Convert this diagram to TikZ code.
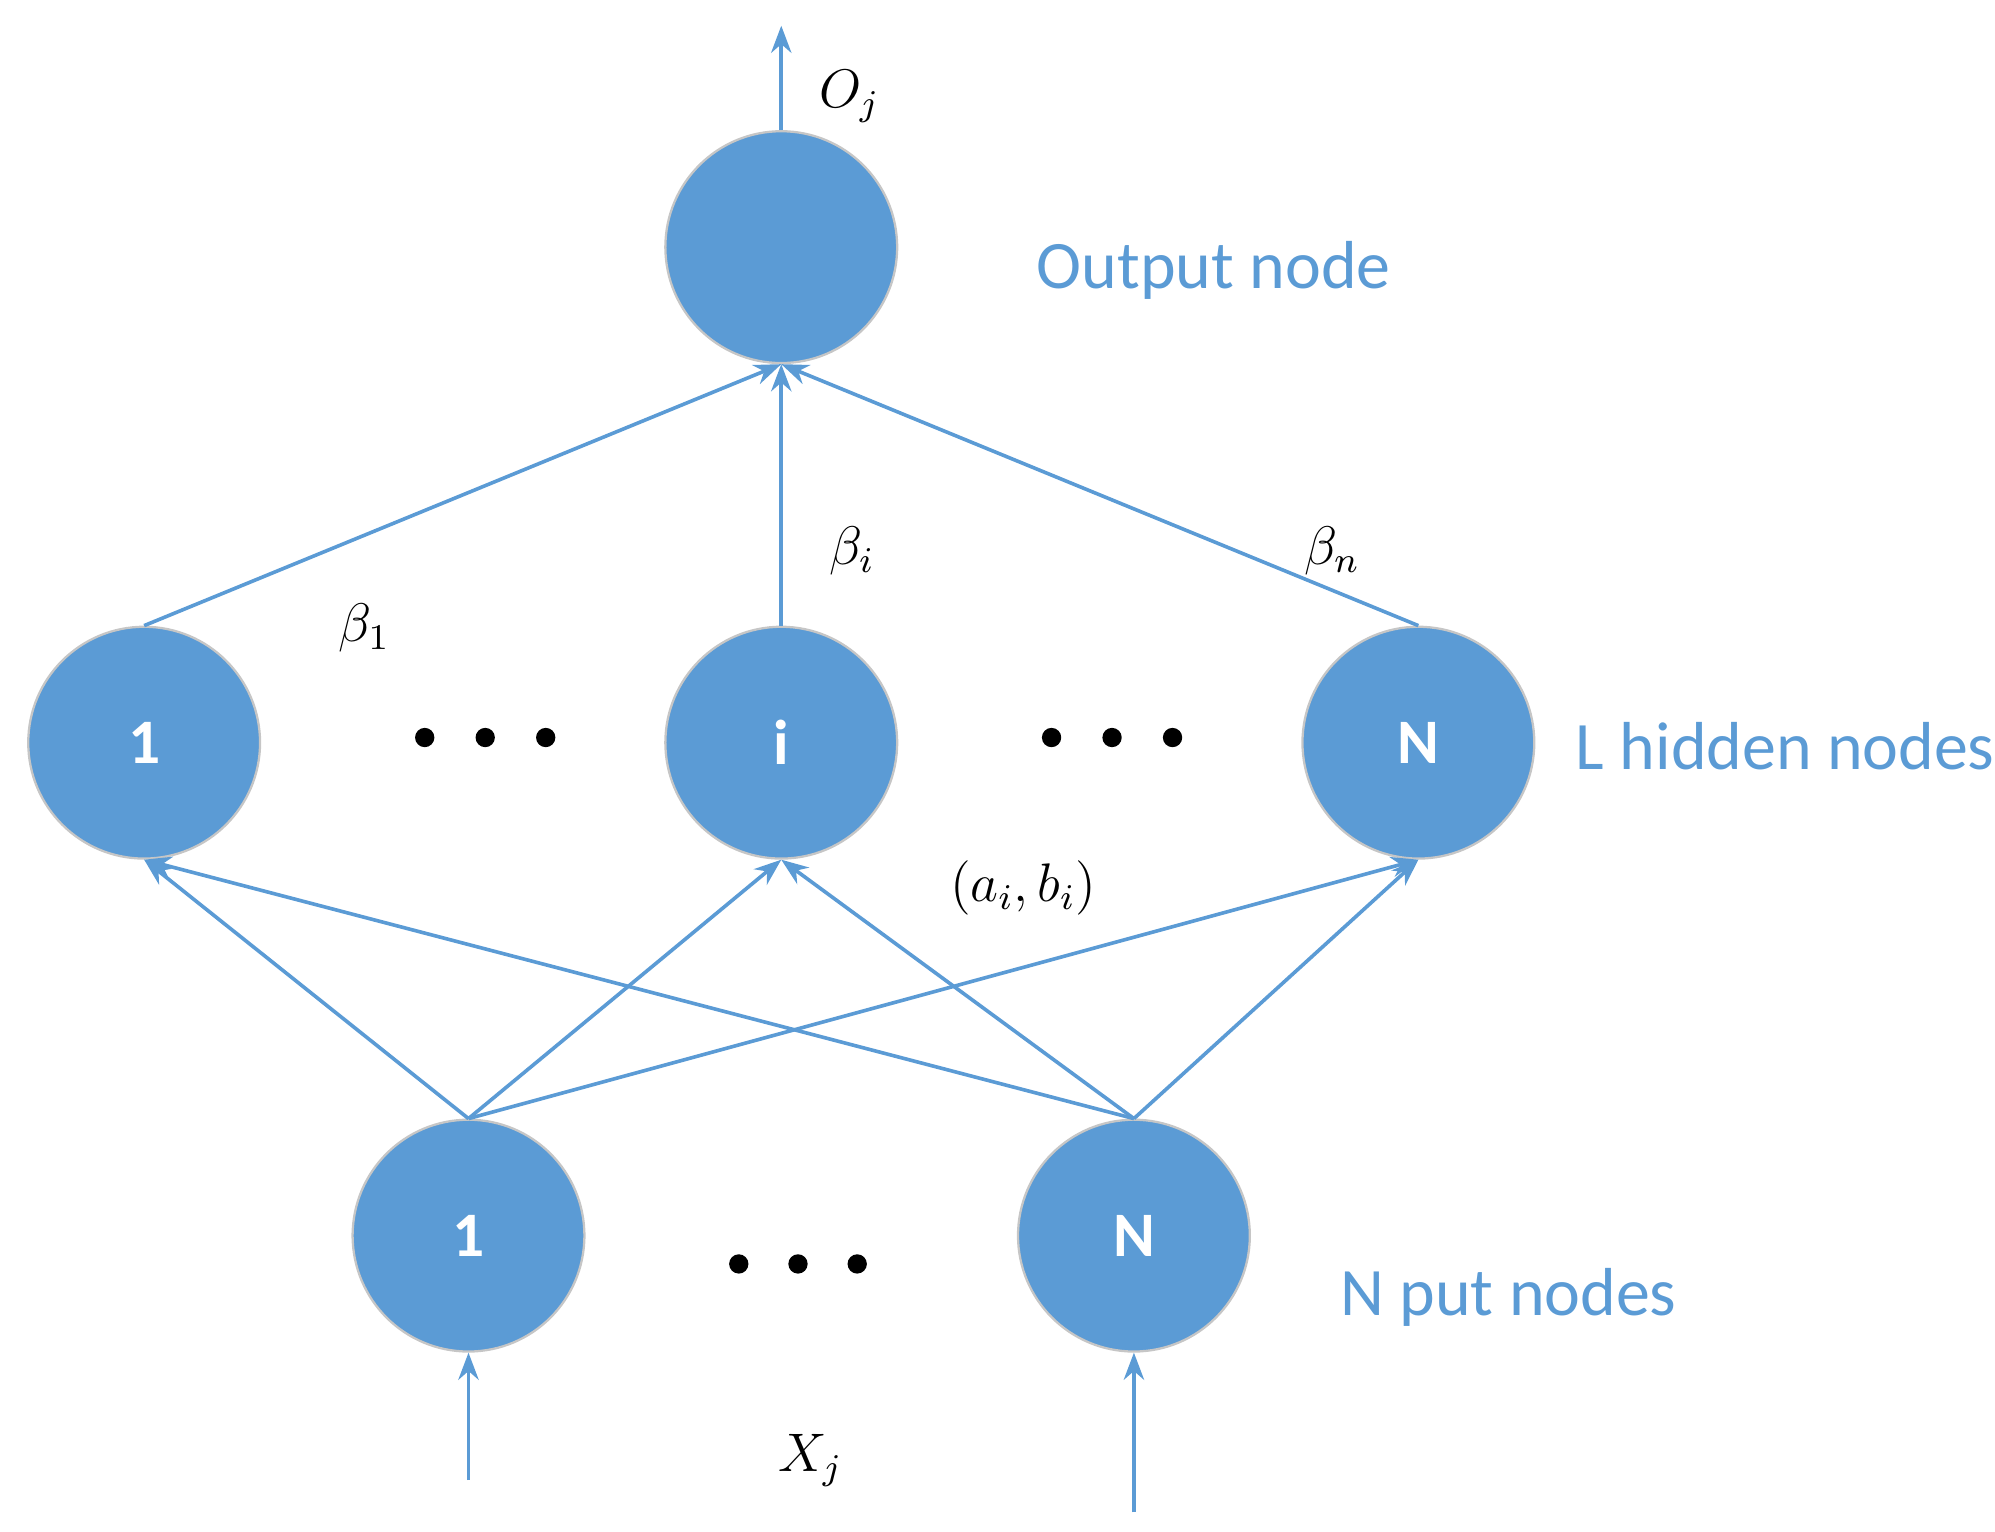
\documentclass[tikz,border=0pt]{standalone}
\usepackage{fontspec}
\setmainfont{Carlito}
\usepackage{amsmath}
\usetikzlibrary{arrows.meta,positioning}
\definecolor{NodeBlue}{RGB}{91,155,213}
\tikzset{
	neuron/.style={circle, minimum size=1.8cm, inner sep=0pt, fill=NodeBlue, draw=gray!45, line width=0.5pt, text=white, font=\fontsize{14}{16}\selectfont\bfseries},
	link/.style={NodeBlue, line width=0.8pt, -{Stealth[length=6pt,width=4.5pt]}},
	layername/.style={text=NodeBlue, font=\fontsize{15}{18}\selectfont},
	dot/.style={circle, fill=black, inner sep=0pt, minimum size=0.15cm},
}

\begin{document}
\begin{tikzpicture}[x=0.01cm, y=-0.01cm]
		\useasboundingbox (0,0) rectangle (1550,1190);
		% output layer
		\node[neuron] (out) at (607,192) {};
		\coordinate (outtop) at (607,20);
		\draw[link] (out.north) -- (outtop);
		\node at (660,75) {\large $O_j$};
		\node[layername] at (943,210) {Output node};

		% hidden layer
		\node[neuron] (h1) at (112,577) {1};
		\node[neuron] (hi) at (607,577) {i};
		\node[neuron] (hN) at (1102,577) {N};
		\foreach \x in {330,377,424} \node[dot] at (\x,573) {};
		\foreach \x in {817,864,911} \node[dot] at (\x,573) {};
		\node[layername, anchor=west] at (1212,580) {L hidden nodes};

		% input layer
		\node[neuron] (x1) at (364,960) {1};
		\node[neuron] (xN) at (881,960) {N};
		\foreach \x in {574,620,666} \node[dot] at (\x,982) {};
		\node[layername] at (1172,1008) {N put nodes};
		\coordinate (in1) at (364,1150);
		\coordinate (inN) at (881,1175);
		\draw[link] (in1) -- (x1.south);
		\draw[link] (inN) -- (xN.south);
		\node at (630,1135) {\large $X_j$};

		% weights
		\foreach \h in {h1,hi,hN}
		\draw[link] (\h.north) -- (out.south);
		\foreach \x in {x1,xN}
		\foreach \h in {h1,hi,hN}
		\draw[link] (\x.north) -- (\h.south);

		\node at (283,488) {\large $\beta_1$};
		\node at (662,428) {\large $\beta_i$};
		\node at (1035,428) {\large $\beta_n$};
		\node at (795,690) {\large $(a_i,b_i)$};
	\end{tikzpicture}
\end{document}
